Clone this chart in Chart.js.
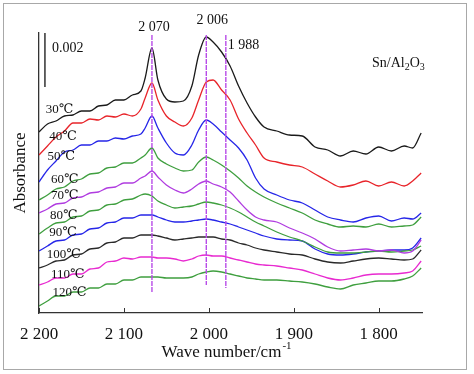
<!DOCTYPE html>
<html>
<head>
<meta charset="utf-8">
<script src="https://cdn.jsdelivr.net/npm/chart.js@4.4.0/dist/chart.umd.min.js"></script>
<style>
  html, body { margin: 0; padding: 0; background: #fff; }
  #wrap { position: relative; width: 474px; height: 374px; }
  #frame { position: absolute; left: 3px; top: 3px; width: 464px; height: 367px; border: 1px solid #a8a8a8; box-sizing: border-box; pointer-events: none; }
  canvas { position: absolute; left: 0; top: 0; }
</style>
</head>
<body>
<div id="wrap">
  <canvas id="chart" width="474" height="374"></canvas>
  <div id="frame"></div>
</div>
<script>
// wavenumber (cm-1), spectra offset vertically (arbitrary units, 54 units = 0.002 abs)
const waveNumbers = [2200, 2190, 2180, 2170, 2160, 2150, 2140, 2130, 2120, 2110, 2100, 2090, 2080, 2075, 2067, 2060, 2050, 2040, 2030, 2020, 2012, 2003, 1995, 1985, 1975, 1965, 1955, 1945, 1935, 1920, 1905, 1890, 1875, 1860, 1845, 1830, 1815, 1800, 1785, 1770, 1760, 1750];
const temps = ['30℃', '40℃', '50℃', '60℃', '70℃', '80℃', '90℃', '100℃', '110℃', '120℃'];
const t30 = [181, 189, 192, 197, 198, 202, 202, 207, 208, 213, 213, 218, 222, 235, 265, 233, 214, 211, 212, 227, 258, 276, 271, 261, 247, 227, 210, 196, 186, 182, 178, 177, 166, 163, 157, 162, 159, 166, 162, 167, 165, 180];
const t40 = [158, 167, 176, 182, 190, 190, 194, 193, 197, 196, 199, 197, 204, 215, 230, 213, 197, 191, 187, 195, 213, 231, 233, 223, 213, 194, 180, 168, 155, 151, 148, 146, 139, 132, 126, 128, 132, 127, 131, 127, 132, 140];
const t50 = [131, 143, 152, 161, 163, 168, 168, 172, 172, 175, 174, 177, 179, 185, 197, 185, 170, 160, 158, 168, 183, 193, 189, 181, 173, 165, 153, 135, 124, 118, 113, 110, 103, 96, 93, 91, 95, 97, 92, 95, 94, 100];
const t60 = [113, 118, 124, 126, 132, 134, 139, 140, 145, 146, 150, 150, 155, 158, 165, 155, 149, 145, 142, 143, 151, 156, 153, 148, 142, 135, 127, 121, 116, 110, 105, 100, 93, 89, 86, 87, 86, 89, 86, 87, 88, 96];
const t70 = [100, 104, 109, 110, 115, 116, 120, 121, 125, 126, 130, 130, 135, 137, 142, 136, 128, 123, 120, 124, 129, 132, 129, 126, 121, 112, 103, 96, 93, 91, 85, 80, 74, 66, 62, 63, 64, 62, 63, 60, 62, 73];
const t80 = [79, 85, 90, 91, 96, 97, 102, 103, 108, 109, 113, 114, 118, 119, 117, 112, 108, 105, 106, 107, 109, 111, 110, 108, 105, 101, 96, 91, 87, 81, 76, 72, 66, 61, 60, 60, 61, 62, 61, 62, 63, 67];
const t90 = [62, 67, 72, 73, 78, 79, 84, 85, 90, 91, 95, 95, 98, 98, 98, 96, 93, 91, 91, 92, 93, 94, 93, 91, 89, 86, 83, 80, 77, 74, 73, 72, 64, 59, 58, 59, 61, 62, 63, 63, 65, 75];
const t100 = [45, 48, 52, 53, 58, 59, 64, 65, 70, 71, 75, 75, 78, 78, 78, 77, 75, 73, 74, 75, 76, 76, 76, 74, 73, 70, 68, 65, 63, 61, 59, 58, 54, 51, 50, 52, 54, 55, 54, 53, 54, 63];
const t110 = [28, 31, 35, 35, 39, 39, 44, 45, 51, 52, 55, 54, 56, 56, 56, 55, 55, 54, 52, 54, 57, 58, 57, 57, 55, 53, 51, 49, 48, 47, 45, 43, 39, 35, 33, 35, 38, 39, 39, 40, 42, 52];
const t120 = [7, 12, 17, 17, 21, 21, 25, 25, 29, 29, 33, 33, 36, 36, 36, 36, 35, 35, 35, 36, 39, 41, 42, 41, 39, 37, 35, 34, 33, 33, 32, 31, 29, 26, 24, 28, 30, 32, 32, 34, 37, 45];
const series = [t30, t40, t50, t60, t70, t80, t90, t100, t110, t120];
const colors = ['#1a1a1a', '#e8242a', '#2626e8', '#3f9f3f', '#b03ce0', '#3f9f3f', '#2626e8', '#2a2a2a', '#e82ad0', '#3f9f3f'];
const xTicks = [2200, 2100, 2000, 1900, 1800];

// peak markers: drawn position, label, top/bottom of the line (data units)
const peakPos = [2067, 2003, 1980];
const peakLabels = ['2 070', '2 006', '1 988'];
const peakTop = [278, 278, 278];
const peakBottom = [20, 28, 25];

// label anchor per curve (wavenumber of left edge, height of text centre)
const labelX = [2192, 2188, 2190, 2186, 2186, 2187, 2188, 2191, 2186, 2184];
const labelY = [203, 176, 156, 133, 117, 97, 80, 58, 38, 20];

const serif = '"Liberation Serif", "Times New Roman", "DejaVu Serif", serif';

const fmt = v => {
  const s = String(v);
  return s.length > 3 ? s.slice(0, s.length - 3) + ' ' + s.slice(-3) : s;
};

const decor = {
  id: 'decor',
  afterDatasetsDraw(chart) {
    const { ctx, chartArea: a, scales: { x, y } } = chart;
    ctx.save();
    // inward tick marks
    ctx.strokeStyle = '#333';
    ctx.lineWidth = 1;
    xTicks.forEach(v => {
      const px = Math.round(x.getPixelForValue(v)) + 0.5;
      ctx.beginPath();
      ctx.moveTo(px, a.bottom);
      ctx.lineTo(px, a.bottom - 5);
      ctx.stroke();
    });
    // peak lines
    ctx.strokeStyle = '#b84ce8';
    ctx.lineWidth = 1.4;
    ctx.setLineDash([5, 1]);
    peakPos.forEach((p, i) => {
      const px = x.getPixelForValue(p);
      ctx.beginPath();
      ctx.moveTo(px, y.getPixelForValue(peakTop[i]));
      ctx.lineTo(px, y.getPixelForValue(peakBottom[i]));
      ctx.stroke();
    });
    ctx.setLineDash([]);
    ctx.fillStyle = '#111';
    ctx.font = '14px ' + serif;
    ctx.textBaseline = 'middle';
    ctx.textAlign = 'center';
    ctx.fillText(peakLabels[0], x.getPixelForValue(peakPos[0]) + 2, 27);
    ctx.fillText(peakLabels[1], x.getPixelForValue(peakPos[1]) + 6, 20);
    ctx.textAlign = 'left';
    ctx.fillText(peakLabels[2], x.getPixelForValue(peakPos[2]) + 2, 45);
    // scale bar
    const bx = x.getPixelForValue(2193);
    ctx.strokeStyle = '#111';
    ctx.lineWidth = 1.3;
    ctx.beginPath();
    ctx.moveTo(bx, y.getPixelForValue(280));
    ctx.lineTo(bx, y.getPixelForValue(226));
    ctx.stroke();
    ctx.fillText('0.002', bx + 7, 48);
    // temperature labels
    ctx.font = '13px ' + serif;
    temps.forEach((t, i) => {
      ctx.fillText(t, x.getPixelForValue(labelX[i]), y.getPixelForValue(labelY[i]));
    });
    // sample name
    let sx = 372;
    const part = (txt, dy, f) => {
      ctx.font = f;
      ctx.fillText(txt, sx, 63 + dy);
      sx += ctx.measureText(txt).width;
    };
    part('Sn/Al', 0, '14px ' + serif);
    part('2', 4, '10px ' + serif);
    part('O', 0, '14px ' + serif);
    part('3', 4, '10px ' + serif);
    // axis titles
    ctx.font = '17px ' + serif;
    ctx.textAlign = 'left';
    const t1 = 'Wave number/cm';
    const w1 = ctx.measureText(t1).width;
    ctx.font = '11px ' + serif;
    const w2 = ctx.measureText('-1').width;
    const tx = 226 - (w1 + w2) / 2;
    ctx.font = '17px ' + serif;
    ctx.fillText(t1, tx, 353);
    ctx.font = '11px ' + serif;
    ctx.fillText('-1', tx + w1 + 1, 346);
    ctx.save();
    ctx.translate(21, 173);
    ctx.rotate(-Math.PI / 2);
    ctx.textAlign = 'center';
    ctx.font = '17px ' + serif;
    ctx.fillText('Absorbance', 0, 0);
    ctx.restore();
    ctx.restore();
  }
};

new Chart(document.getElementById('chart').getContext('2d'), {
  type: 'line',
  data: {
    labels: waveNumbers,
    datasets: series.map((s, i) => ({
      label: temps[i],
      data: s.map((v, j) => ({ x: waveNumbers[j], y: v })),
      borderColor: colors[i],
      borderWidth: 1.3,
      pointRadius: 0,
      fill: false,
      cubicInterpolationMode: 'monotone'
    }))
  },
  options: {
    responsive: false,
    animation: false,
    layout: { padding: { top: 33, right: 52, left: 0, bottom: 0 } },
    plugins: { legend: { display: false }, tooltip: { enabled: false } },
    scales: {
      x: {
        type: 'linear',
        reverse: true,
        min: 1749,
        max: 2200,
        afterBuildTicks: s => { s.ticks = xTicks.map(v => ({ value: v })); },
        afterFit: s => { s.height = 61; },
        grid: { drawOnChartArea: false, drawTicks: false },
        border: { display: true, color: '#333', width: 1.3 },
        ticks: {
          color: '#111',
          font: { family: serif, size: 17 },
          padding: 11,
          maxRotation: 0,
          callback: v => fmt(v)
        }
      },
      y: {
        min: 0,
        max: 280,
        afterFit: s => { s.width = 39; },
        grid: { drawOnChartArea: false, drawTicks: false },
        border: { display: true, color: '#333', width: 1.3 },
        ticks: { display: false }
      }
    }
  },
  plugins: [decor]
});
</script>
</body>
</html>
